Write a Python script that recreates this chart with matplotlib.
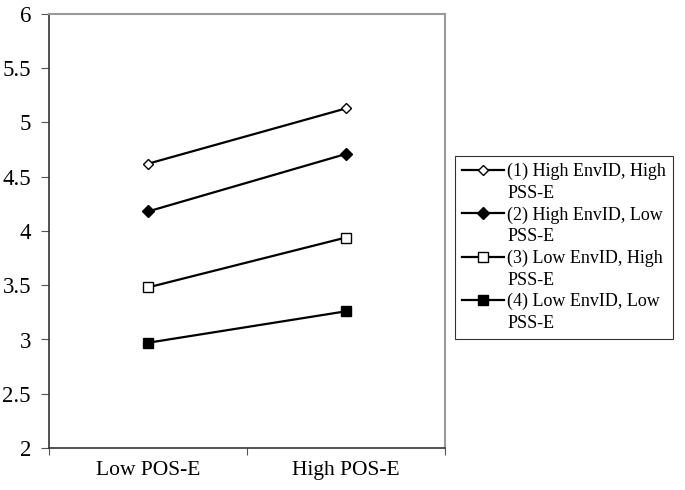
import matplotlib.pyplot as plt
from matplotlib.lines import Line2D

plt.rcParams['font.family'] = ['Liberation Serif', 'DejaVu Serif']

categories = ['Low POS-E', 'High POS-E']
series_labels = ['(1) High EnvID, High', '(2) High EnvID, Low',
                 '(3) Low EnvID, High', '(4) Low EnvID, Low']
label_tail = 'PSS-E'
series_values = [[4.62, 5.13], [4.18, 4.71], [3.48, 3.94], [2.97, 3.26]]
markers = ['D', 'D', 's', 's']
fills = ['white', 'black', 'white', 'black']
msizes = [5, 6, 7, 7]

fig = plt.figure(figsize=(6.85, 4.9), dpi=100)
ax = fig.add_axes([49/685, 42/490, (445-49)/685, (448-14)/490])

xpos = [0.5, 1.5]
handles, labels = [], []
for vals, lab, m, fc, ms in zip(series_values, series_labels, markers, fills, msizes):
    h, = ax.plot(xpos, vals, color='black', lw=1.6, marker=m, markersize=ms,
                 markerfacecolor=fc, markeredgecolor='black', markeredgewidth=1)
    handles += [h, Line2D([], [], color='none')]
    labels += [lab, label_tail]

ax.set_xlim(0, 2)
ax.set_ylim(2, 6)
ax.set_yticks([2, 2.5, 3, 3.5, 4, 4.5, 5, 5.5, 6])
ax.set_yticklabels(['2', '2.5', '3', '3.5', '4', '4.5', '5', '5.5', '6'])
ax.set_xticks([0, 1, 2])
ax.set_xticklabels([])
ax.set_xticks(xpos, minor=True)
ax.set_xticklabels(categories, minor=True)
ax.tick_params(axis='x', which='minor', length=0, pad=9, labelsize=15.5)
ax.tick_params(axis='x', which='major', length=5, direction='out', color='#555555')
ax.tick_params(axis='y', length=6, direction='out', labelsize=16.5, pad=7, color='#555555')

for s in ['left', 'bottom']:
    ax.spines[s].set_color('#333333')
    ax.spines[s].set_linewidth(1.2)
for s in ['top', 'right']:
    ax.spines[s].set_color('#999999')
    ax.spines[s].set_linewidth(1.5)

leg = ax.legend(handles, labels, loc='center left', bbox_to_anchor=(1.025, 0.462),
                frameon=True, fancybox=False, edgecolor='black', fontsize=13,
                handlelength=2.3, handletextpad=0.2, labelspacing=0.25, borderpad=0.4,
                borderaxespad=0)
leg.get_frame().set_linewidth(0.8)

fig.savefig('out.png', dpi=100)
